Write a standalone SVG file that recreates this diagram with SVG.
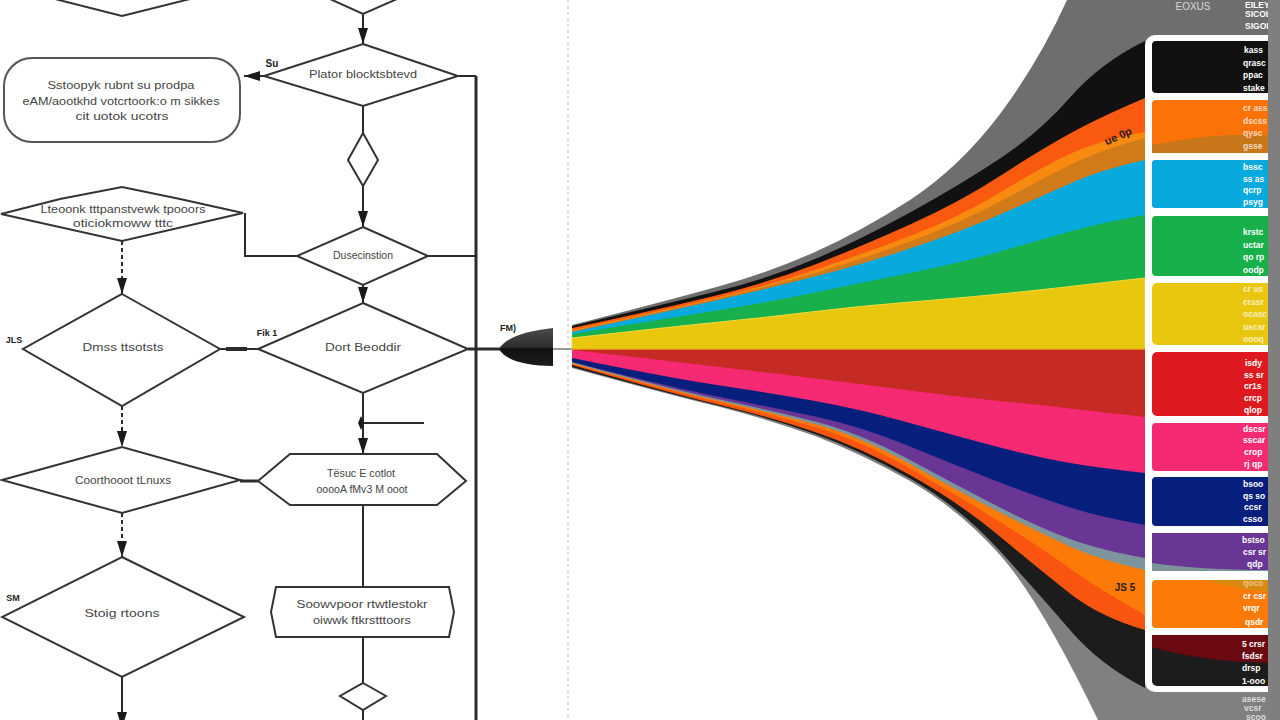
<svg xmlns="http://www.w3.org/2000/svg" width="1280" height="720" viewBox="0 0 1280 720">
<style>
.n{fill:#fff;stroke:#333;stroke-width:2;stroke-linejoin:miter}
.c{fill:none;stroke:#2b2b2b;stroke-width:2}
.d{stroke-dasharray:4 3}
.t{font-family:"Liberation Sans",Arial,sans-serif;font-size:11px;fill:#444;text-anchor:middle;dominant-baseline:central}
.s{font-family:"Liberation Sans",Arial,sans-serif;font-size:9px;font-weight:700;fill:#222;text-anchor:middle;dominant-baseline:central}
.w{font-family:"Liberation Sans",Arial,sans-serif;font-size:8.5px;font-weight:700;fill:#fff;dominant-baseline:central}
</style>
<defs>
<marker id="a" markerUnits="userSpaceOnUse" markerWidth="16" markerHeight="12" refX="16" refY="6" orient="auto"><path d="M0,1L16,6L0,11Z" fill="#1a1a1a"/></marker>
<linearGradient id="b" x1="0" y1="0" x2="0" y2="1"><stop offset="0" stop-color="#4a4a4a"/><stop offset=".5" stop-color="#2e2e2e"/><stop offset=".55" stop-color="#111"/><stop offset="1" stop-color="#1c1c1c"/></linearGradient>
</defs>
<rect width="1280" height="720" fill="#fff"/>
<g id="divider"><path d="M568,0V720" stroke="#bdbdbd" stroke-width="1" stroke-dasharray="3 3" fill="none"/></g>
<g id="connectors">
<path class="c" d="M363,14V44" marker-end="url(#a)"/>
<path class="c" d="M264,76H244" marker-end="url(#a)"/>
<path class="c" d="M363,106V133"/>
<path class="c" d="M363,186V227" marker-end="url(#a)"/>
<path class="c" d="M245,213V256H297"/>
<path class="c" d="M428,256H476"/>
<path class="c" d="M458,76H476"/>
<path class="c" style="stroke-width:3" d="M476,76V720"/>
<path class="c" d="M363,285V303" marker-end="url(#a)"/>
<path class="c d" d="M122,241V294" marker-end="url(#a)"/>
<path class="c" d="M220,349H258"/>
<path class="c" style="stroke-width:4" d="M226,349H247"/>
<path class="c" style="stroke-width:3" d="M468,349H500"/>
<path d="M553,349H572" stroke="#777" stroke-width="1.5" fill="none"/>
<path class="c" d="M363,393V454" marker-end="url(#a)"/>
<path class="c" d="M361,423H424"/>
<path d="M361,416L364,423L361,430L358,423Z" fill="#1a1a1a"/>
<path class="c" style="stroke-width:3" d="M240,481H258"/>
<path class="c d" d="M122,406V447" marker-end="url(#a)"/>
<path class="c d" d="M122,513V557" marker-end="url(#a)"/>
<path class="c" d="M122,677V728" marker-end="url(#a)"/>
<path class="c" d="M363,505V587"/>
<path class="c" d="M363,637V683"/>
<path class="c" d="M363,710V720"/>
</g>
<g id="n-top-left"><path class="n" d="M55,-1L122,16L190,-1"/></g>
<g id="n-top-mid"><path class="n" d="M330,-1L363,14L397,-1"/></g>
<g id="n-d1"><path class="n" d="M363,44L458,76L363,106L264,76Z"/><text class="t" x="363" y="74" textLength="108" lengthAdjust="spacingAndGlyphs">Plator blocktsbtevd</text></g>
<g id="n-rect"><rect class="n" style="stroke:#555" x="4" y="58" width="236" height="84" rx="28"/>
<text class="t" x="121" y="85" textLength="147" lengthAdjust="spacingAndGlyphs">Sstoopyk rubnt su prodpa</text>
<text class="t" x="121" y="101" textLength="197" lengthAdjust="spacingAndGlyphs">eAM/aootkhd votcrtoork:o m sikkes</text>
<text class="t" x="122" y="116" textLength="93" lengthAdjust="spacingAndGlyphs">cit uotok ucotrs</text></g>
<g id="n-d2"><path class="n" d="M363,133L378,160L363,186L348,160Z"/></g>
<g id="n-hex1"><path class="n" d="M1,214L60,199L122,187L180,199L243,213L122,241Z"/>
<text class="t" x="123" y="209" textLength="165" lengthAdjust="spacingAndGlyphs">Lteoonk tttpanstvewk tpooors</text>
<text class="t" x="123" y="223" textLength="100" lengthAdjust="spacingAndGlyphs">oticiokmoww tttc</text></g>
<g id="n-d3"><path class="n" d="M363,227L428,256L363,285L297,256Z"/><text class="t" x="363" y="255" textLength="60" lengthAdjust="spacingAndGlyphs">Dusecinstion</text></g>
<g id="n-d4"><path class="n" d="M122,294L220,349L122,406L23,349Z"/><text class="t" x="123" y="347" textLength="81" lengthAdjust="spacingAndGlyphs">Dmss ttsotsts</text></g>
<g id="n-d5"><path class="n" d="M363,303L468,349L363,393L258,349Z"/><text class="t" x="363" y="347" textLength="76" lengthAdjust="spacingAndGlyphs">Dort Beoddir</text></g>
<g id="n-hex2"><path class="n" d="M258,481L290,454H437L466,481L437,505H290Z"/>
<text class="t" x="361" y="473" textLength="68" lengthAdjust="spacingAndGlyphs">Tësuc E cotlot</text>
<text class="t" x="362" y="489" textLength="91" lengthAdjust="spacingAndGlyphs">ooooA fMv3 M ooot</text></g>
<g id="n-d6"><path class="n" d="M2,480L122,447L240,480L122,513Z"/><text class="t" x="123" y="480" textLength="96" lengthAdjust="spacingAndGlyphs">Coorthooot tLnuxs</text></g>
<g id="n-d7"><path class="n" d="M122,557L244,617L122,677L2,617Z"/><text class="t" x="122" y="613" textLength="75" lengthAdjust="spacingAndGlyphs">Stoig rtoons</text></g>
<g id="n-box"><path class="n" d="M276,587H449L454,612L449,637H276L271,612Z"/>
<text class="t" x="362" y="604" textLength="131" lengthAdjust="spacingAndGlyphs">Soowvpoor rtwtlestokr</text>
<text class="t" x="362" y="620" textLength="98" lengthAdjust="spacingAndGlyphs">oiwwk ftkrstttoors</text></g>
<g id="n-d8"><path class="n" d="M363,683L386,696L363,710L340,696Z"/></g>
<g id="n-bullet"><path d="M553,328V366C525,366 505,360 499,349C505,338 525,331 553,328Z" fill="url(#b)"/></g>
<g id="labels">
<text class="s" x="272" y="63" style="font-size:10px">Su</text>
<text class="s" x="14" y="340">JLS</text>
<text class="s" x="267" y="333">Fik 1</text>
<text class="s" x="508" y="328">FM)</text>
<text class="s" x="13" y="598">SM</text>
</g>
<g id="fan">
<path fill="#6e6e6e" d="M572,325Q670,300 720,286Q770,272 815,252Q860,232 910,200Q960,167 1000,114Q1040,60 1067,0H1280V349H572Z"/>
<path fill="#111" d="M572,326Q670,303 720,290.5Q770,278 815,259Q860,240 910,212.5Q960,185 1000,158.5Q1040,132 1070,97.5Q1100,63 1145,41V349H572Z"/>
<path fill="#fa5a10" d="M572,328Q670,307 720,294.5Q770,282 815,264.5Q860,247 910,224.5Q960,202 1000,176Q1040,150 1070,133.5Q1100,117 1145,98V349H572Z"/>
<path fill="#f98a10" d="M572,330Q670,309 720,297Q770,285 815,270Q860,255 910,236Q960,217 1000,192.5Q1040,168 1070,154Q1100,140 1145,132V349H572Z"/>
<path fill="#d07a1a" d="M572,331Q670,310 720,298Q770,286 815,273Q860,260 910,241.5Q960,223 1000,201.5Q1040,180 1070,165Q1100,150 1145,138V349H572Z"/>
<path fill="#08a9dc" d="M572,332Q670,311 720,299.5Q770,288 815,276.5Q860,265 910,248.5Q960,232 1000,214.5Q1040,197 1070,183.5Q1100,170 1145,160V349H572Z"/>
<path fill="#17b04a" d="M572,334Q670,318 720,310Q770,302 815,292.5Q860,283 910,273Q960,263 1000,251.5Q1040,240 1070,231.5Q1100,223 1145,215V349H572Z"/>
<path fill="#e8c70e" stroke="#f0dc3c" stroke-width="1" d="M572,338Q670,327 720,322Q770,317 815,311.5Q860,306 910,302Q960,298 1000,294Q1040,290 1070,286.5Q1100,283 1145,278V349H572Z"/>
<path fill="#808080" d="M572,368Q670,395 720,407Q770,420 815,436Q860,453 910,481Q960,510 1000,555Q1040,600 1098,720H1280V349H572Z"/>
<path fill="#1c1c1c" d="M572,367Q670,394 720,406Q770,418 815,434Q860,450 910,478.5Q960,507 1000,551Q1040,595 1070,630Q1100,665 1145,688V349H572Z"/>
<path fill="#fa5510" d="M572,365Q670,393 720,405Q770,417 815,432Q860,447 910,475Q960,503 1000,536.5Q1040,570 1070,593.5Q1100,617 1145,630V349H572Z"/>
<path fill="#fb7a08" d="M572,364Q670,391 720,402.5Q770,414 815,427Q860,440 910,468.5Q960,497 1000,522Q1040,547 1070,568.5Q1100,590 1145,615V349H572Z"/>
<path fill="#7c959c" d="M572,363Q670,390 720,401Q770,412 815,424Q860,436 910,464Q960,492 1000,512.5Q1040,533 1070,546.5Q1100,560 1145,570V349H572Z"/>
<path fill="#6a3695" d="M572,362Q670,389 720,399.5Q770,410 815,421.5Q860,433 910,460Q960,487 1000,507.5Q1040,528 1070,539Q1100,550 1145,558V349H572Z"/>
<path fill="#071f7c" d="M572,362Q670,387 720,397Q770,407 815,416.5Q860,426 910,446.5Q960,467 1000,482.5Q1040,498 1070,507.5Q1100,517 1145,525V349H572Z"/>
<path fill="#f52a72" d="M572,358Q670,378 720,385.5Q770,393 815,401Q860,409 910,423Q960,437 1000,447.5Q1040,458 1070,463Q1100,468 1145,473V349H572Z"/>
<path fill="#c62a24" d="M572,350Q670,361 720,367Q770,373 815,378.5Q860,384 910,390.5Q960,397 1000,401Q1040,405 1070,408.5Q1100,412 1145,417V349H572Z"/>
<path d="M572,349H1145" stroke="#e8a80e" stroke-width="1.5" fill="none"/>
<text x="1118" y="136" transform="rotate(-24 1118 136)" style="font-family:'Liberation Sans',Arial,sans-serif;font-size:11px;font-weight:700;fill:#2a1a20;text-anchor:middle;dominant-baseline:central">ue 0p</text>
<text x="1125" y="587" style="font-family:'Liberation Sans',Arial,sans-serif;font-size:10px;font-weight:700;fill:#2a1a10;text-anchor:middle;dominant-baseline:central">JS 5</text>
</g>
<g id="panel">
<rect x="1145" y="35" width="135" height="657" rx="10" fill="#fff"/>
<rect x="1152" y="41" width="125" height="52" rx="4" fill="#111"/>
<rect x="1152" y="100" width="125" height="53" rx="4" fill="#fb7208"/>
<path d="M1152,153V145Q1200,136 1230,135H1277V153Z" fill="#c8761a"/>
<rect x="1152" y="160" width="125" height="48" rx="3" fill="#08a9dc"/>
<rect x="1152" y="216" width="125" height="60" rx="4" fill="#17b04a"/>
<rect x="1152" y="283" width="125" height="62" rx="5" fill="#e8c70e"/>
<rect x="1152" y="352" width="125" height="64" rx="5" fill="#de1a20"/>
<rect x="1152" y="423" width="125" height="48" rx="4" fill="#f52a72"/>
<rect x="1152" y="477" width="125" height="49" rx="4" fill="#071f7c"/>
<rect x="1152" y="533" width="125" height="37" fill="#6a3695"/>
<path d="M1152,563Q1200,570 1268,570V571H1152Z" fill="#7c959c"/>
<rect x="1152" y="580" width="125" height="48" rx="4" fill="#fb7a08"/>
<path d="M1205,580Q1240,590 1277,592V580Z" fill="#d88a10"/>
<rect x="1152" y="635" width="125" height="51" rx="5" fill="#1c1c1c"/>
<path d="M1152,635H1277V663Q1200,662 1152,647Z" fill="#6b0a10"/>
</g>
<g id="panel-text">
<text class="t" x="1193" y="6" style="fill:#d8d8d8;font-size:10px">EOXUS</text>
<text class="w" x="1245" y="5">EILEY</text><text class="w" x="1245" y="14">SICOL</text><text class="w" x="1245" y="26">SIGOD</text>
<text class="w" x="1244" y="50">kass</text><text class="w" x="1243" y="63">qrasc</text><text class="w" x="1243" y="75">ppac</text><text class="w" x="1243" y="88">stake</text>
<text class="w" x="1243" y="108" fill-opacity=".75">cr ass</text><text class="w" x="1243" y="121" fill-opacity=".75">dscss</text><text class="w" x="1243" y="133" fill-opacity=".75">qysc</text><text class="w" x="1243" y="146" fill-opacity=".75">gsse</text>
<text class="w" x="1243" y="167">bssc</text><text class="w" x="1243" y="179">ss as</text><text class="w" x="1243" y="190">qcrp</text><text class="w" x="1243" y="202">psyg</text>
<text class="w" x="1243" y="232">krstc</text><text class="w" x="1243" y="245">uctar</text><text class="w" x="1243" y="257">qo rp</text><text class="w" x="1243" y="270">oodp</text>
<text class="w" x="1243" y="289" fill-opacity=".75">cr us</text><text class="w" x="1243" y="302" fill-opacity=".75">crasr</text><text class="w" x="1243" y="314" fill-opacity=".75">ocasc</text><text class="w" x="1243" y="327" fill-opacity=".75">uscsr</text><text class="w" x="1243" y="339" fill-opacity=".75">oooq</text>
<text class="w" x="1245" y="363">isdy</text><text class="w" x="1244" y="375">ss sr</text><text class="w" x="1244" y="386">cr1s</text><text class="w" x="1244" y="398">crcp</text><text class="w" x="1244" y="410">qlop</text>
<text class="w" x="1243" y="429">dscsr</text><text class="w" x="1243" y="440">sscar</text><text class="w" x="1244" y="452">crop</text><text class="w" x="1244" y="464">rj qp</text>
<text class="w" x="1243" y="484">bsoo</text><text class="w" x="1243" y="496">qs so</text><text class="w" x="1244" y="507">ccsr</text><text class="w" x="1243" y="519">csso</text>
<text class="w" x="1242" y="540">bstso</text><text class="w" x="1243" y="552">csr sr</text><text class="w" x="1247" y="564">qdp</text>
<text class="w" x="1243" y="583" fill-opacity=".5">qoco</text><text class="w" x="1243" y="596">cr csr</text><text class="w" x="1243" y="608">vrqr</text><text class="w" x="1245" y="622">qsdr</text>
<text class="w" x="1242" y="644">5 crsr</text><text class="w" x="1242" y="656">fsdsr</text><text class="w" x="1242" y="668">drsp</text><text class="w" x="1242" y="681">1-ooo</text>
<text class="w" x="1242" y="699" style="fill:#ddd">asese</text><text class="w" x="1244" y="708" style="fill:#ddd">vcsr</text><text class="w" x="1246" y="717" style="fill:#ddd">scoo</text>
</g>
<g id="edge"><rect x="1268" y="0" width="12" height="720" fill="#7f7f7f"/></g>
</svg>
